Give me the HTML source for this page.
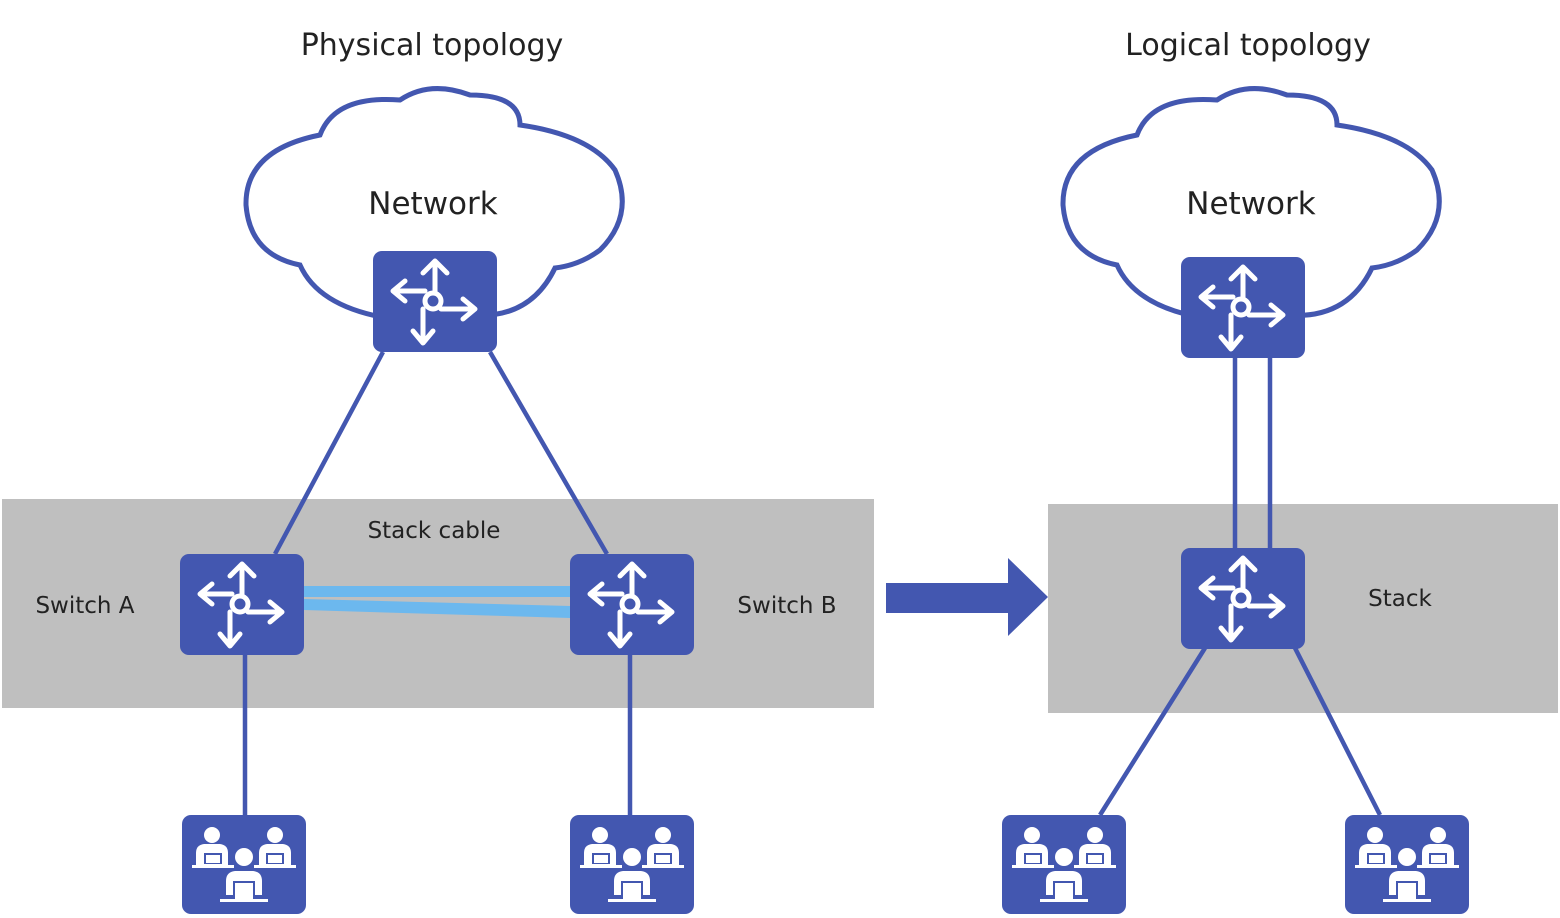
<!DOCTYPE html>
<html><head><style>body{margin:0;background:#fff}svg{display:block}text{font-family:"DejaVu Sans","Liberation Sans",sans-serif;fill:#222}</style></head><body>
<svg width="1560" height="918" viewBox="0 0 1560 918" xmlns="http://www.w3.org/2000/svg">
<defs>
<g id="sw">
<rect x="0" y="0" width="124" height="101" rx="9" fill="#4357b0"/>
<g stroke="#fff" stroke-width="5" fill="none" stroke-linecap="round" stroke-linejoin="round">
<circle cx="60" cy="50" r="8"/>
<path d="M62 42V12M50 22L62 10L74 22"/>
<path d="M52 40H22M32 30L20 40L32 50"/>
<path d="M68 58H100M90 48L102 58L90 68"/>
<path d="M50 58V90M40 80L50 92L60 80"/>
</g>
</g>
<g id="usr">
<rect x="0" y="0" width="124" height="99" rx="9" fill="#4357b0"/>
<g fill="#fff">
<circle cx="30" cy="20" r="8"/><path d="M14 50v-12q0-8 8-9h16q8 1 8 9v12z"/>
<circle cx="93" cy="20" r="8"/><path d="M77 50v-12q0-8 8-9h16q8 1 8 9v12z"/>
<circle cx="62" cy="42" r="9"/><path d="M44 80v-14q0-9 9-10h18q9 1 9 10v14z"/>
<rect x="10" y="50" width="42" height="3"/><rect x="72" y="50" width="42" height="3"/>
<rect x="38" y="84" width="48" height="3"/>
</g>
<g fill="#4357b0"><rect x="22" y="38" width="18" height="11"/><rect x="84" y="38" width="18" height="11"/><rect x="51" y="66" width="22" height="14"/></g>
<g fill="#fff"><rect x="24" y="40" width="14" height="8"/><rect x="86" y="40" width="14" height="8"/><rect x="53" y="68" width="18" height="16"/></g>
</g>
<path id="cloud" d="M300 265 Q250 255 246 205 Q245 150 320 135 Q335 95 400 100 Q430 80 470 95 Q520 95 520 125 Q590 135 615 170 Q635 215 600 250 Q580 265 555 268 Q530 320 470 315 L400 320 Q320 310 300 265 Z" fill="#fff" stroke="#4357b0" stroke-width="5"/>
</defs>
<rect x="2" y="499" width="872" height="209" fill="#bfbfbf"/>
<rect x="1048" y="504" width="510" height="209" fill="#bfbfbf"/>
<use href="#cloud"/>
<use href="#cloud" transform="translate(817,0)"/>
<text x="432" y="55" font-size="30" text-anchor="middle">Physical topology</text>
<text x="1248" y="55" font-size="30" text-anchor="middle">Logical topology</text>
<text x="433" y="214" font-size="31" text-anchor="middle">Network</text>
<text x="1251" y="214" font-size="31" text-anchor="middle">Network</text>
<g stroke="#4357b0" stroke-width="4.5" fill="none">
<path d="M383 352L275 554M490 352L607 554M245 655V815M630 655V815M1235 357V548M1270 357V548M1205 648L1100 815M1295 648L1380 815"/>
</g>
<path d="M304 586L570 586L570 597L304 597Z" fill="#6cb8ee"/>
<path d="M304 599L570 606L570 618L304 610Z" fill="#6cb8ee"/>
<path d="M886 583H1008V558L1048 597L1008 636V613H886Z" fill="#4357b0"/>
<use href="#sw" x="373" y="251"/>
<use href="#sw" x="180" y="554"/>
<use href="#sw" x="570" y="554"/>
<use href="#sw" x="1181" y="257"/>
<use href="#sw" x="1181" y="548"/>
<use href="#usr" x="182" y="815"/>
<use href="#usr" x="570" y="815"/>
<use href="#usr" x="1002" y="815"/>
<use href="#usr" x="1345" y="815"/>
<text x="434" y="538" font-size="23" text-anchor="middle">Stack cable</text>
<text x="85" y="613" font-size="23" text-anchor="middle">Switch A</text>
<text x="787" y="613" font-size="23" text-anchor="middle">Switch B</text>
<text x="1400" y="606" font-size="23" text-anchor="middle">Stack</text>
</svg>
</body></html>
